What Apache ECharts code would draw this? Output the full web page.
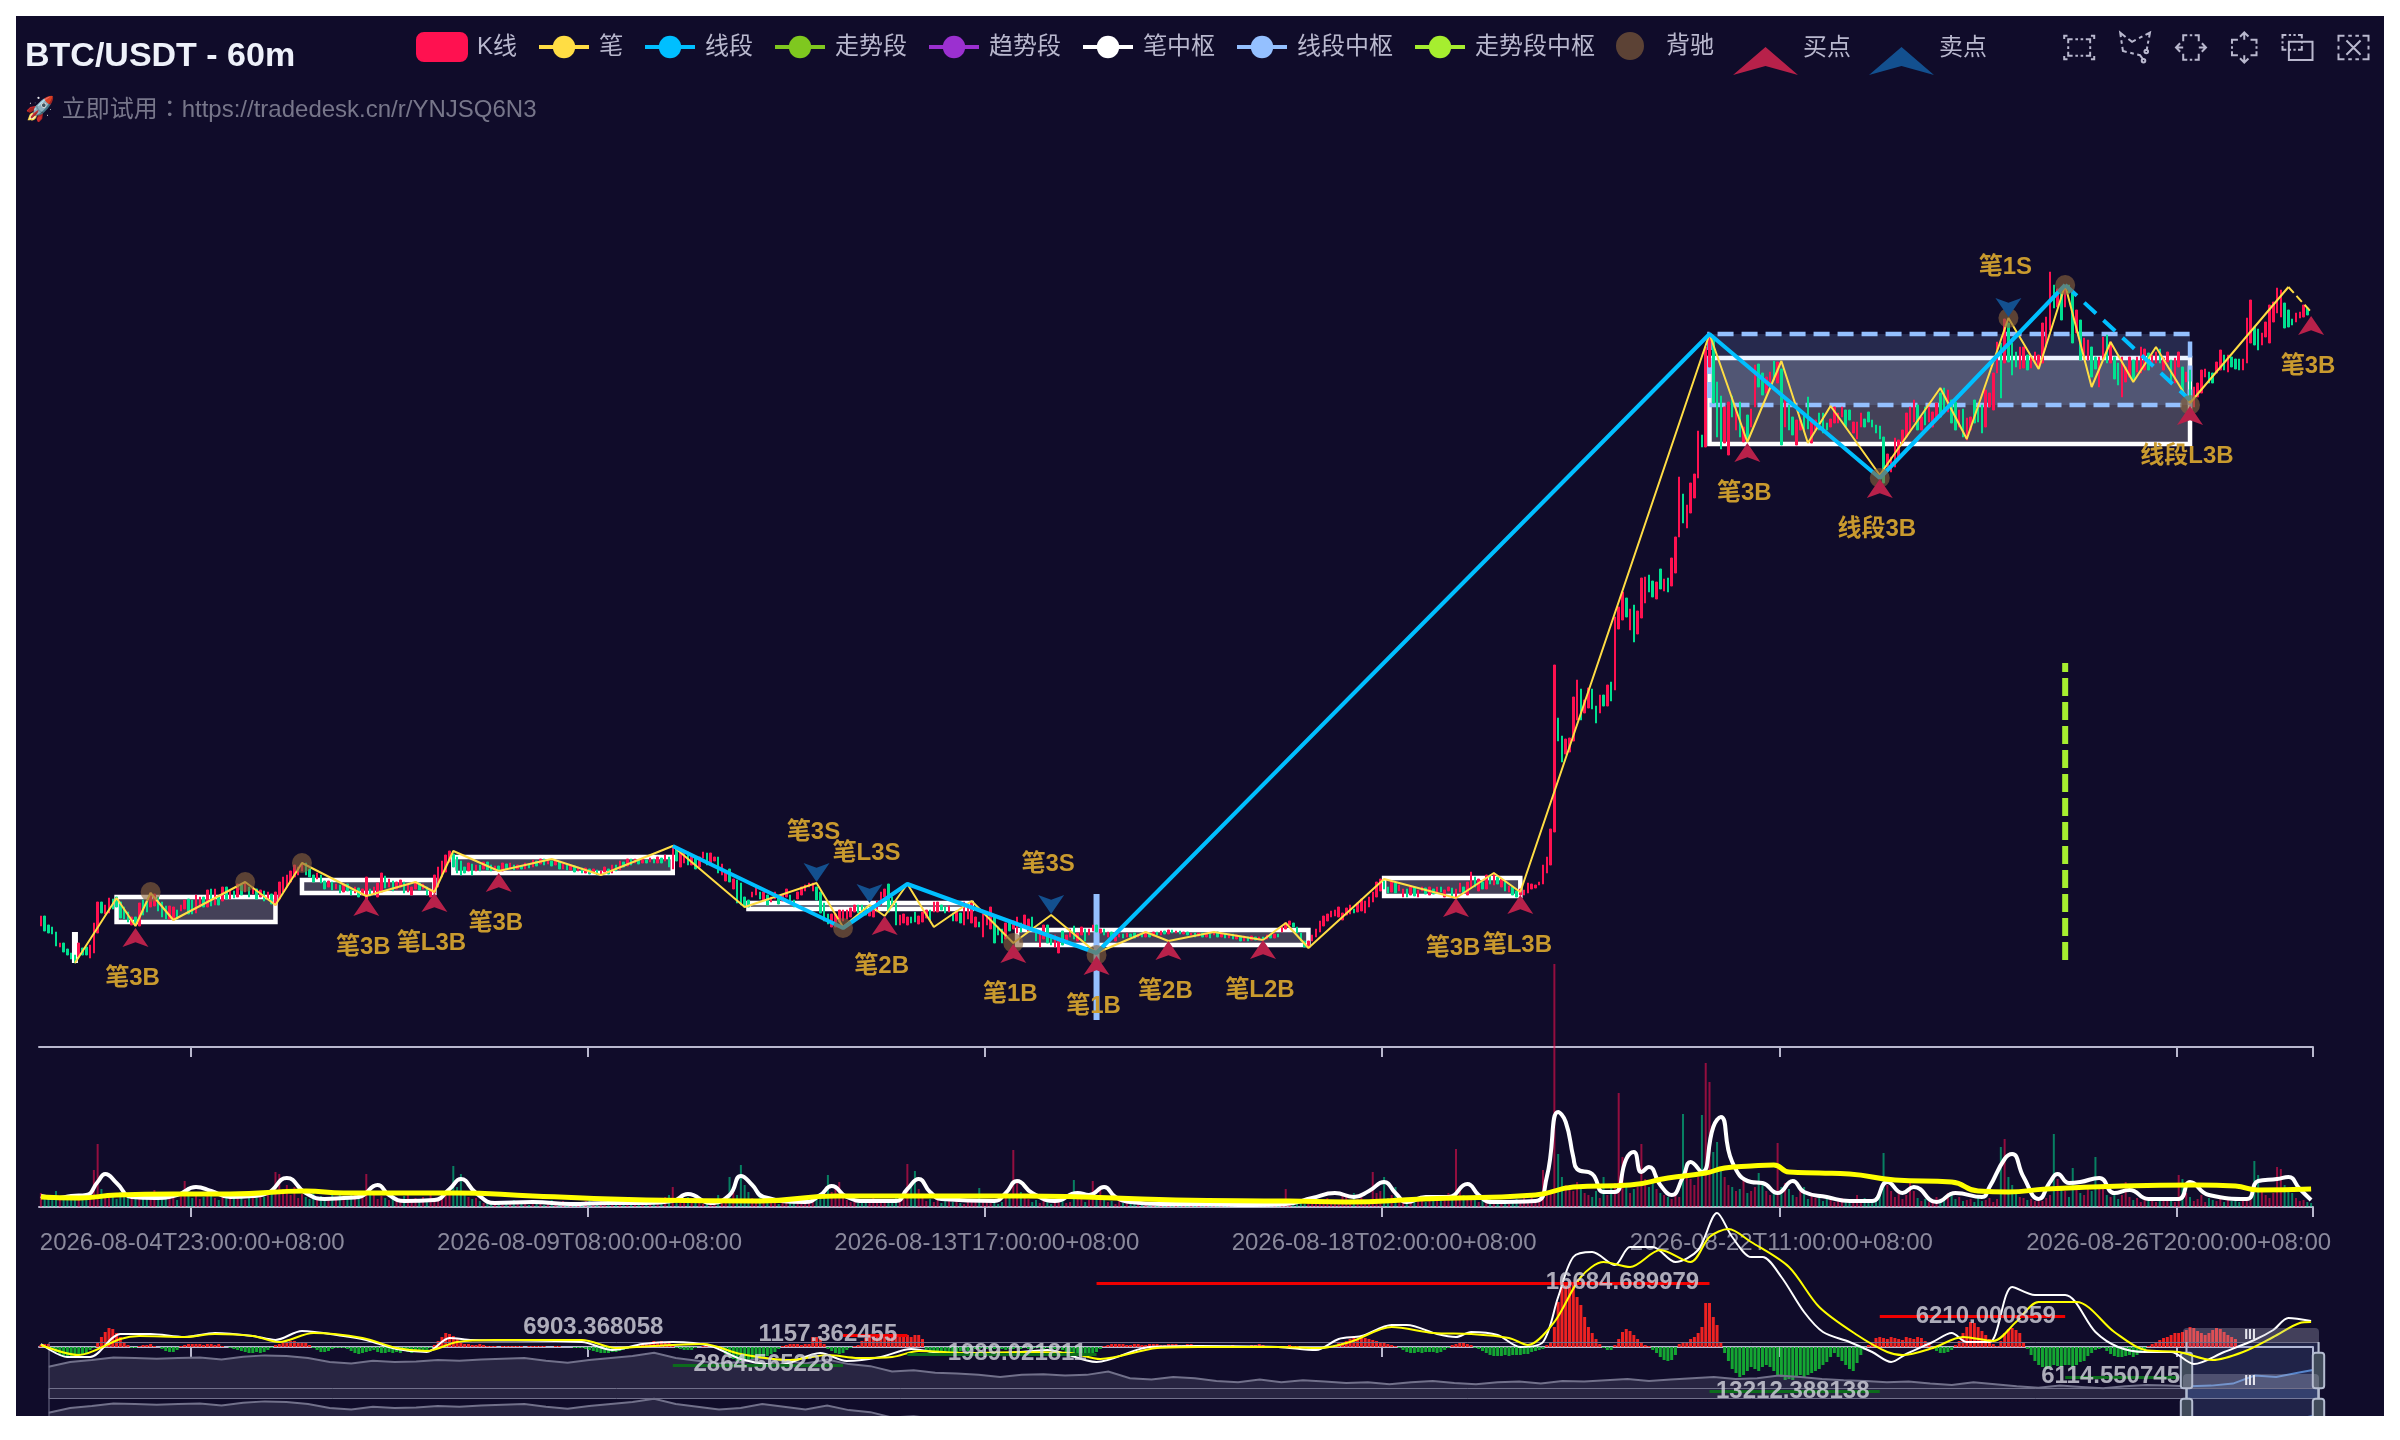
<!DOCTYPE html>
<html><head><meta charset="utf-8">
<style>html,body{margin:0;padding:0;background:#fff;width:2400px;height:1440px;overflow:hidden}
#c{position:absolute;left:16px;top:16px;width:2368px;height:1400px}</style>
<script src="https://cdn.jsdelivr.net/npm/echarts@6/dist/echarts.min.js"></script>
</head><body><div id="c"></div>
<script>
const firstTime = ['2026-08-04T23:00:00+08:00','2026-08-09T08:00:00+08:00','2026-08-13T17:00:00+08:00','2026-08-18T02:00:00+08:00','2026-08-22T11:00:00+08:00','2026-08-26T20:00:00+08:00'];
const tickLabelIndex = [40,145,250,355,460,565];
const barCount = 601;
// [open, close] per hourly bar
const klineBodies = [
[121,131],[131,116],[122,114],[120,113],[115,101],[100,104],[104,95],[98,92],[94,88],[92,84],
[90,104],[99,92],[100,92],[89,102],[94,124],[114,145],[145,134],[133,142],[134,149],[148,138],
[150,140],[145,129],[140,128],[135,125],[122,130],[130,122],[121,144],[147,132],[147,135],[140,154],
[141,153],[150,136],[145,130],[141,128],[128,141],[127,140],[137,128],[136,142],[138,147],[148,133],
[147,133],[134,152],[140,150],[150,140],[140,157],[158,141],[142,158],[150,142],[146,160],[160,148],
[148,156],[156,149],[150,163],[162,152],[155,165],[160,150],[153,160],[158,148],[150,157],[156,146],
[147,155],[153,143],[142,155],[148,165],[155,170],[160,172],[165,176],[170,182],[172,180],[176,184],
[184,172],[178,170],[172,165],[168,174],[172,164],[166,158],[160,166],[165,157],[158,163],[162,154],
[155,163],[163,156],[157,152],[154,160],[159,150],[152,158],[147,170],[158,151],[153,160],[150,164],
[155,174],[171,159],[160,168],[166,156],[158,165],[160,167],[165,154],[155,162],[152,160],[158,165],
[164,157],[158,163],[160,152],[150,158],[154,172],[160,180],[170,186],[175,192],[185,196],[193,180],
[190,174],[186,172],[180,174],[176,184],[183,172],[176,182],[182,176],[178,185],[185,177],[182,176],
[177,181],[181,176],[176,184],[183,178],[179,184],[182,177],[178,182],[181,178],[178,184],[183,179],
[180,187],[186,181],[183,188],[188,182],[183,187],[186,181],[182,186],[185,178],[178,183],[182,177],
[177,182],[181,175],[176,180],[179,174],[174,179],[178,173],[175,178],[177,172],[172,176],[175,180],
[178,173],[174,182],[182,176],[177,186],[185,180],[181,188],[188,182],[184,188],[187,183],[184,188],
[187,184],[185,189],[188,184],[184,190],[189,184],[186,192],[190,180],[178,201],[198,186],[180,194],
[184,196],[195,182],[182,192],[190,178],[180,190],[189,195],[194,182],[184,194],[186,190],[190,174],
[172,183],[166,176],[178,165],[158,168],[167,144],[164,142],[150,140],[147,140],[150,155],[152,160],
[155,148],[147,155],[152,142],[145,150],[148,155],[150,143],[146,152],[150,158],[152,146],[147,140],
[148,155],[152,160],[156,162],[160,164],[156,164],[160,147],[155,134],[144,126],[133,123],[120,133],
[120,133],[125,137],[126,137],[128,137],[130,139],[135,142],[142,134],[142,134],[140,132],[131,138],
[130,140],[135,146],[142,155],[150,158],[163,135],[150,140],[144,122],[122,132],[124,133],[122,130],
[130,124],[135,125],[123,131],[125,135],[129,137],[137,127],[135,145],[135,145],[142,137],[140,134],
[135,141],[134,126],[126,136],[134,124],[122,145],[128,143],[124,145],[120,130],[125,120],[110,133],
[122,133],[118,140],[132,104],[120,112],[118,104],[108,124],[124,116],[118,126],[114,130],[124,115],
[122,132],[116,128],[130,118],[118,106],[100,114],[108,122],[122,104],[112,102],[100,112],[94,108],
[116,102],[104,112],[110,118],[121,108],[106,114],[112,120],[118,106],[112,118],[116,122],[122,115],
[114,118],[118,112],[110,115],[115,109],[106,110],[110,113],[113,109],[110,114],[113,110],[114,109],
[110,113],[113,110],[110,115],[114,110],[111,115],[115,112],[112,116],[116,113],[113,117],[117,114],
[114,116],[116,113],[113,115],[115,112],[112,114],[114,110],[111,114],[114,110],[110,113],[113,109],
[112,115],[115,110],[110,114],[113,109],[109,113],[113,108],[108,112],[111,106],[106,111],[110,106],
[107,111],[110,107],[107,110],[110,108],[108,112],[112,109],[109,113],[113,110],[115,121],[118,124],
[122,126],[124,120],[120,114],[114,106],[106,100],[100,106],[106,112],[110,118],[115,126],[121,131],
[126,133],[130,136],[131,137],[130,140],[127,134],[132,139],[133,142],[138,134],[135,144],[136,148],
[134,146],[140,150],[145,155],[150,165],[156,168],[166,158],[160,154],[155,166],[164,154],[156,162],
[150,158],[158,150],[152,160],[160,151],[150,157],[156,160],[159,153],[152,160],[158,153],[154,160],
[160,155],[150,157],[156,160],[159,150],[148,158],[155,164],[160,154],[152,165],[160,175],[170,160],
[156,168],[165,158],[158,172],[172,163],[162,174],[170,163],[160,168],[165,156],[155,161],[160,152],[156,150],[152,158],
[152,157],[154,164],[158,163],[159,162],[162,165],[163,182],[174,190],[182,218],[215,382],[329,306],
[311,285],[293,308],[295,309],[306,350],[327,367],[358,327],[334,347],[339,359],[358,338],[341,324],
[334,352],[352,341],[341,362],[365,346],[357,430],[418,440],[427,455],[449,430],[417,438],[442,405],
[413,436],[429,469],[444,470],[472,455],[466,450],[448,465],[478,458],[456,468],[469,455],[461,489],
[474,510],[510,570],[553,524],[519,542],[534,564],[549,573],[569,616],[612,600],[600,700],[680,713],
[709,644],[665,610],[651,598],[604,640],[592,645],[651,630],[617,640],[645,610],[605,620],[632,608],
[620,638],[640,682],[683,660],[674,652],[654,670],[657,675],[686,667],[664,685],[678,602],[620,650],
[642,617],[630,612],[602,627],[617,627],[634,617],[650,618],[604,627],[617,627],[634,617],[634,614],
[624,617],[620,628],[624,640],[624,634],[630,640],[637,620],[637,627],[614,625],[608,625],[620,634],
[628,620],[635,625],[627,620],[622,614],[621,608],[610,564],[580,593],[575,590],[580,609],[590,607],
[604,617],[610,634],[617,640],[625,647],[642,617],[617,630],[640,622],[625,640],[620,635],[630,644],
[654,630],[659,634],[635,657],[647,624],[645,617],[620,637],[638,610],[607,629],[617,630],[647,624],
[640,625],[642,614],[620,657],[640,654],[637,674],[674,705],[704,649],[684,728],[724,685],[704,672],
[695,680],[678,700],[679,700],[692,677],[679,690],[683,695],[679,692],[684,724],[700,730],[717,775],
[762,739],[740,758],[755,727],[740,760],[762,754],[754,704],[714,737],[727,687],[690,709],[687,707],
[700,670],[690,678],[660,690],[687,710],[712,684],[684,705],[690,668],[684,662],[650,690],[665,680],
[670,690],[687,667],[675,690],[674,700],[677,698],[694,677],[680,692],[684,695],[698,684],[677,689],
[685,695],[687,665],[664,689],[680,695],[680,654],[665,675],[677,647],[640,660],[650,664],[654,677],
[670,678],[675,664],[674,664],[674,685],[677,697],[692,677],[675,692],[690,680],[688,678],[688,677],
[677,688],[684,729],[704,747],[720,702],[718,697],[702,714],[710,725],[704,742],[725,745],[734,759],
[730,757],[744,719],[737,720],[728,722],[725,734],[729,735],[730,742],[739,732]
];
const volumeValues = [
14,9,12,10,16,8,11,7,10,13,8,9,12,15,37,63,18,12,9,14,
8,15,17,12,9,10,14,8,11,13,17,9,12,8,14,10,7,11,26,20,
9,13,8,10,15,11,9,7,12,14,8,10,13,9,7,11,15,9,12,10,
14,16,35,33,18,22,12,20,9,13,10,8,14,9,11,7,10,12,9,13,
8,10,14,16,9,12,33,20,13,8,11,9,7,12,10,8,11,14,7,9,
6,10,8,12,9,7,10,15,18,41,20,33,14,10,8,9,6,4,7,5,
3,5,2,6,4,7,3,5,4,2,6,3,5,2,4,7,3,4,6,2,
3,5,4,2,6,8,5,3,7,4,5,6,2,3,5,4,7,3,6,4,
5,3,4,6,8,10,12,20,6,4,8,10,5,7,4,3,6,5,8,12,
7,5,30,18,12,42,22,15,9,6,10,5,8,4,7,3,6,9,5,4,
7,6,8,5,10,12,9,14,32,15,20,25,10,7,5,8,4,6,5,7,
9,6,4,8,5,7,10,12,8,43,22,36,18,10,6,8,5,7,4,6,
9,5,7,4,3,6,5,8,19,7,5,4,6,3,5,
12,10,57,24,15,10,8,5,7,4,6,5,3,8,6,11,4,5,27,14,9,5,
7,26,12,18,8,5,6,3,7,4,5,6,3,4,5,2,3,5,4,2,
3,4,2,5,3,2,4,3,2,
3,5,2,3,4,2,3,5,2,4,3,2,3,4,2,3,5,2,3,4,
3,2,4,18,8,5,4,6,3,7,5,8,4,6,9,5,3,7,12,10,
6,14,8,10,5,4,35,14,16,30,9,12,20,6,5,8,4,6,9,7,5,8,
10,12,6,9,14,8,58,20,12,8,10,7,5,9,12,8,6,4,7,5,
3,6,8,5,9,7,14,6,9,37,12,14,243,53,30,22,18,16,25,20,14,12,
10,16,9,30,12,20,24,114,50,22,14,18,20,63,28,20,24,18,14,12,
10,8,14,10,93,40,28,22,30,92,144,125,55,65,40,30,22,20,16,18,
28,14,16,20,34,26,16,12,14,64,20,24,18,12,10,16,20,8,14,9,
12,6,10,8,5,7,9,6,4,8,12,5,9,7,6,10,12,54,22,16,
10,14,8,12,26,16,9,6,8,5,7,10,6,9,14,12,8,10,6,7,8,5,9,6,7,
9,5,8,60,68,30,22,14,10,9,7,8,6,8,6,9,12,73,28,20,16,10,39,18,
14,12,20,16,50,22,18,12,10,14,8,12,25,10,7,9,5,8,6,10,
5,7,9,6,8,5,32,28,14,10,6,8,12,5,9,7,6,8,5,7,6,9,5,8,6,7,
46,32,18,12,9,14,40,38,22,18,14,9,6,7,5,4];
const macdHist = [
2,3,3,-2,-5,-8,-10,-11,-11,-10,-9,-8,-6,-3,-1,4,10,15,19,18,
14,10,5,2,-1,-1,1,2,2,3,1,0,-2,-4,-5,-5,-3,1,2,3,
3,3,3,2,3,3,2,3,1,0,-1,-2,-3,-4,-5,-6,-6,-5,-6,-5,
-3,-1,2,3,4,5,6,6,5,5,4,2,-1,-3,-5,-5,-4,-2,-1,-1,
-1,-2,-4,-6,-7,-6,-5,-4,-3,-5,-6,-6,-5,-6,-5,-6,-4,-5,-6,-4,
-5,-5,-3,-1,2,6,10,14,13,11,8,5,3,3,2,2,3,2,1,1,
1,0,1,1,1,1,1,1,0,1,1,1,1,1,0,0,1,1,0,0,
0,-1,-1,-1,-2,-3,-4,-5,-6,-6,-6,-5,-5,-4,-3,-2,-1,0,2,3,
4,5,6,5,6,5,4,3,-1,-2,-3,-3,-3,-1,0,1,1,1,1,-1,
-4,-7,-10,-12,-14,-15,-14,-15,-13,-12,-10,-12,-9,-7,-5,-2,1,2,3,3,
3,2,3,3,10,10,8,3,-2,-4,-6,-7,-6,-3,-1,1,2,6,9,12,
12,11,12,11,12,11,12,10,11,12,10,12,12,8,-3,-6,-7,-6,-5,-7,
-6,-5,-6,-4,-3,-4,-3,-2,-2,-1,-2,-3,-2,-1,-2,-3,-2,-2,-1,-2,
-1,-2,-2,-1,-1,-2,-1,-2,-2,-1,-3,-5,-7,-9,-9,-8,-9,-8,-7,-5,
-2,1,2,3,3,3,3,2,2,3,3,2,2,3,3,3,2,2,3,3,
3,2,2,3,3,2,2,1,1,1,1,1,1,1,1,2,1,1,1,1,
2,2,3,2,1,1,1,1,0,1,2,1,1,-1,-1,-2,-3,-3,-3,-2,
-1,1,2,4,5,6,8,9,8,10,9,8,7,6,5,4,3,2,1,-1,
-3,-5,-6,-6,-5,-6,-5,-5,-5,-6,-5,-3,-1,2,3,4,4,3,2,-1,
-2,-4,-6,-8,-9,-9,-9,-8,-9,-8,-8,-8,-7,-7,-5,-4,-3,-2,2,5,20,45,60,64,60,
64,50,42,30,20,14,8,3,-1,-3,-3,2,8,15,18,16,12,8,4,2,
1,-3,-6,-10,-13,-14,-13,-8,3,4,5,8,10,14,20,44,44,30,22,5,
-6,-14,-22,-26,-30,-28,-24,-20,-22,-24,-20,-18,-20,-24,-28,-30,-33,-32,-33,-30,
-28,-30,-28,-26,-24,-22,-18,-15,-10,-6,-10,-14,-18,-22,-24,-16,-8,-3,2,5,
9,10,9,8,10,9,8,7,10,9,8,10,9,6,5,-2,-4,-6,-6,-5,
-3,2,6,14,20,25,24,20,16,12,8,3,1,6,14,18,19,17,14,4,
-2,-8,-14,-18,-20,-22,-20,-18,-19,-20,-18,-18,-20,-18,-15,-14,-9,-6,-3,-2,
-1,-4,-7,-9,-10,-10,-9,-8,-10,-8,-6,-3,1,3,5,7,9,10,12,14,
14,15,17,20,19,16,14,12,14,17,19,18,15,12,10,8];
const ma5Vol = [[0,11],[4,9],[8,11],[12,12],[15,25],[17,33],[20,24],[24,10],[30,9],[36,12],[41,20],[45,16],[50,10],[56,11],[60,14],[65,29],[70,14],[75,8],[80,9],[84,10],[89,22],[92,12],[96,6],[104,7],[108,18],[111,28],[115,14],[120,4],[130,5],[140,3],[150,4],[160,4],[167,6],[171,13],[177,4],[182,12],[185,31],[188,22],[191,10],[202,5],[206,12],[209,21],[213,10],[218,6],[226,6],[229,18],[232,28],[235,15],[238,8],[252,6],[255,14],[258,26],[262,14],[268,6],[274,14],[277,12],[281,20],[284,10],[288,5],[296,3],[306,3],[320,2],[329,3],[336,9],[342,14],[347,10],[351,16],[355,25],[358,14],[361,5],[366,10],[372,10],[377,23],[380,12],[383,5],[395,6],[398,30],[401,95],[403,85],[405,50],[406,38],[410,33],[413,15],[416,15],[419,48],[421,55],[423,35],[425,40],[428,22],[431,12],[434,30],[436,45],[439,35],[442,80],[444,90],[447,45],[452,25],[455,24],[459,14],[463,26],[466,15],[472,10],[478,6],[484,6],[488,25],[492,14],[495,20],[501,5],[506,14],[513,10],[515,20],[519,48],[521,53],[524,30],[528,8],[531,25],[533,33],[536,24],[539,25],[544,29],[548,14],[552,17],[557,8],[565,8],[568,25],[573,12],[583,8],[586,26],[591,28],[594,30],[597,18],[600,7]];
const ma20Vol = [[0,10],[10,9],[20,12],[35,13],[50,13],[70,16],[80,14],[110,14],[130,11],[160,7],[190,6],[210,11],[240,11],[260,11],[300,7],[330,6],[345,5],[365,8],[395,12],[405,20],[420,22],[430,29],[440,34],[445,39],[452,41],[458,42],[462,35],[470,34],[478,33],[490,27],[505,25],[512,16],[520,15],[530,18],[550,21],[570,22],[580,21],[586,17],[600,18]];
const macdDif = [[0,3],[7,-10],[13,-10],[21,13],[29,13],[38,10],[46,14],[56,11],[62,7],[69,16],[80,11],[86,7],[94,-2],[102,-5],[108,9],[114,7],[143,5],[151,-3],[159,3],[167,5],[177,1],[185,-12],[195,-18],[206,-6],[213,-14],[222,-10],[230,-2],[240,-7],[256,-6],[266,-3],[279,-15],[293,0],[306,1],[327,0],[337,-3],[343,8],[349,11],[357,22],[361,22],[369,13],[374,10],[378,15],[385,12],[391,0],[397,5],[401,50],[405,90],[410,95],[416,82],[420,100],[426,100],[432,85],[438,97],[443,134],[447,110],[452,90],[455,90],[460,70],[466,35],[471,15],[478,5],[484,-5],[489,-15],[493,-7],[500,5],[505,14],[509,5],[515,5],[521,60],[527,52],[535,52],[543,15],[549,0],[556,-5],[563,-5],[569,-17],[577,-5],[585,7],[590,17],[594,29],[600,26]];
const macdDea = [[0,2],[10,-8],[21,8],[26,11],[38,10],[46,13],[56,11],[63,5],[72,14],[85,9],[94,-1],[102,-4],[110,5],[120,7],[143,7],[152,-1],[162,1],[175,3],[185,-7],[198,-13],[208,-8],[216,-11],[225,-10],[232,-4],[245,-6],[260,-5],[272,-6],[280,-12],[295,-1],[306,0],[327,0],[338,-1],[346,5],[357,20],[368,14],[378,13],[388,9],[393,2],[400,25],[407,70],[413,85],[420,80],[428,97],[436,85],[441,110],[446,118],[452,105],[462,80],[470,40],[480,12],[488,-5],[492,-8],[500,-1],[508,10],[516,6],[522,25],[528,45],[538,45],[548,15],[556,-3],[565,-5],[574,-13],[582,-5],[590,10],[597,24],[600,25]];
const macdMarkLines = [[167,212,-18,'#0c6b1c'],[212,229,12,'#f00000'],[229,279,-7,'#0c6b1c'],[279,441,64,'#f00000'],[441,486,-44.5,'#0c6b1c'],[486,535,31,'#f00000'],[535,565,-30,'#0c6b1c']];
const macdLabelText = ['6903.368058','2864.565228','1157.362455','1989.021811','16684.689979','6210.000859','13212.388138','6114.550745'];
const macdLabelIndex = [146,191,208,258,418,514,463,547];
const macdLabelValue = [20,-17,13,-6,65,31,-44,-29];
// pivots
const biSolid = [[9,84],[20,149],[25,121],[29,154],[35,127],[54,165],[62,142],[69,184],[86,151],[99,165],[104,155],[109,196],[121,176],[135,188],[148,172],[167,201],[186,140],[205,164],[212,120],[219,142],[223,131],[229,163],[236,120],[246,146],[257,104],[267,132],[279,94],[292,115],[298,106],[310,115],[323,107],[329,124],[335,99],[355,168],[374,149],[384,174],[391,155],[441,713],[451,605],[460,686],[467,604],[473,641],[486,572],[502,659],[509,608],[520,729],[528,678],[535,762],[542,660],[547,705],[553,665],[559,700],[568,644],[594,760]];
const biDashed = [[594,760],[600,735]];
const segSolid = [[167,201],[212,119],[229,163],[279,94],[441,713],[486,569],[535,762]];
const segDashed = [[535,762],[568,647]];
// [startIndex, endIndex, low, high]
const biCenters = [[9,9,84,115],[20,62,125,150],[69,104,154,167],[109,167,174,190],[187,246,138,144],[258,335,102,117],[355,391,151,169],[441,568,603,689]];
const segCenters = [[279,279,27,153],[441,568,642,713]];
const trendCenters = [[535,535,87,384]];
const divergence = [[29,155],[54,165],[69,184],[212,119],[257,104],[279,92],[486,569],[520,729],[535,762],[568,642]];
const buyPoints = [[25,119,'笔3B'],[86,150,'笔3B'],[104,154,'笔L3B'],[121,174,'笔3B'],[223,131,'笔2B'],[257,103,'笔1B'],[279,91,'笔1B'],[298,106,'笔2B'],[323,107,'笔L2B'],[374,149,'笔3B'],[391,152,'笔L3B'],[451,604,'笔3B'],[486,568,'线段3B'],[568,641,'线段L3B'],[600,731,'笔3B']];
const sellPoints = [[205,165,'笔3S'],[219,144,'笔L3S'],[267,133,'笔3S'],[520,730,'笔1S']];
const historyShadow = [37,44,47,51,50,49,50,51,48,52,54,53,50,44,42,46,44,45,47,46,48,49,50,46,43,47,50,53,58,50,46,42,44,50,46,42,48,41,38,30,32,28,27,25,22,25,26,24,25,30,20,18,22,20,16,14,18,14,17,15,13,14,11,14,16,13,11,14,15,12,16,15,17,19,16,18,20,22,19,20,24,22,19,17,16,14,15,12,10,14,11,8,6,9,7,5,8,10,9,8,9,12,24,22,28,34];

const categories = Array.from({length:barCount},(_,i)=>{const k=tickLabelIndex.indexOf(i);return k>=0?firstTime[k]:String(i)});
const showTick = i => tickLabelIndex.includes(i);
const candleData = klineBodies.map(([o,c])=>[o,c,Math.min(o,c),Math.max(o,c)]);
const UP='#ff1150', DOWN='#00e090';

const LEFT=23, WIDTH=2274;
function axis(gridIndex,showLabel){return {type:'category',gridIndex,data:categories,boundaryGap:true,
  axisLine:{show:true,lineStyle:{color:'#B9B8CE',width:2}},
  axisTick:{show:true,interval:(i)=>showTick(i),length:10,lineStyle:{color:'#B9B8CE',width:2}},
  axisLabel:{show:showLabel,interval:(i)=>showTick(i),color:'#8a899c',fontSize:24,margin:24,hideOverlap:false},
  splitLine:{show:false}}}
function yAx(gridIndex,min,max){return {type:'value',gridIndex,min,max,show:false,splitLine:{show:false}}}
function centersSeries(name,color,list,fill,dashed){return {name,type:'line',xAxisIndex:0,yAxisIndex:0,data:[],symbol:'circle',
  lineStyle:{color,width:4},itemStyle:{color},
  markArea:{silent:true,data:list.map(([a,b,lo,hi])=>{const flat=a===b;return [{xAxis:a,yAxis:lo,itemStyle:{color:fill,borderColor:color,borderWidth:flat?6:4.5,borderType:(dashed&&!flat)||dashed==='all'?[16,8]:'solid',opacity:1}},{xAxis:b,yAxis:hi}]})}}}
function pointSeries(name,list,color,rotate,labelY){return {name,type:'scatter',xAxisIndex:0,yAxisIndex:0,z:8,
  data:list.map(p=>[p[0],p[1]]),symbol:'arrow',symbolSize:[19.5,19],symbolRotate:rotate,symbolKeepAspect:false,
  itemStyle:{color,opacity:1},
  label:{show:true,position:'inside',offset:[-3,labelY],formatter:p=>list[p.dataIndex][2],color:'#c99a2e',fontSize:24,fontWeight:'bold'}}}
const arrowPath='path://M0 0L0.01 0L0.01 0.01L0 0.01Z M32.5 26L65 54L32.5 45L0 54Z';
const circlePath='path://M40 14L40.01 14L40.01 14.01Z M0 14A14 14 0 1 1 28 14A14 14 0 1 1 0 14Z';
const legendCommon={symbolKeepAspect:false,lineStyle:{width:4},textStyle:{color:'#B9B8CE',fontSize:24}};
const handleTop=[1312,1358];

const option={
 animation:false,backgroundColor:'#100C2A',
 textStyle:{fontFamily:'"Liberation Sans","Noto Sans CJK TC",sans-serif'},
 title:{text:'BTC/USDT - 60m',subtext:'🚀 立即试用：https://tradedesk.cn/r/YNJSQ6N3',left:4,top:19,
   textStyle:{color:'#EEF1FA',fontSize:34,fontWeight:'bold'},subtextStyle:{color:'#77768a',fontSize:24},itemGap:24},
 legend:[{...legendCommon,left:395,top:11,itemWidth:50,itemHeight:28,itemGap:20,textStyle:{...legendCommon.textStyle,padding:[0,0,0,5]},
   data:[{name:'K线',icon:'roundRect'},'笔','线段','走势段','趋势段','笔中枢','线段中枢','走势段中枢']},
  {...legendCommon,left:1595,top:11,itemWidth:40,itemHeight:28,textStyle:{...legendCommon.textStyle,padding:[0,0,0,5]},data:[{name:'背驰',icon:circlePath}]},
  {...legendCommon,left:1712,top:0,itemWidth:65,itemHeight:54,itemGap:18,
   data:[{name:'买点',icon:arrowPath},{name:'卖点',icon:arrowPath}]}],
 toolbox:{right:-2,top:-1,itemSize:30,itemGap:21,iconStyle:{borderColor:'#B9B8CE',borderWidth:2},feature:{brush:{type:['rect','polygon','lineX','lineY','keep','clear']}}},
 brush:{xAxisIndex:'all',brushLink:'all'},
 grid:[{left:LEFT,width:WIDTH,top:84,height:947,outerBoundsMode:'none'},{left:LEFT,width:WIDTH,top:948,height:243,outerBoundsMode:'none'},{left:LEFT,width:WIDTH,top:1181,height:300,outerBoundsMode:'none'},{left:-200,width:100,top:10,height:50,outerBoundsMode:'none'}],
 xAxis:[axis(0,false),axis(1,true),axis(2,false),{type:'category',gridIndex:3,show:false,data:historyShadow.map((_,i)=>String(i))}],
 yAxis:[yAx(0,0,947),yAx(1,0,243),yAx(2,-150,150),yAx(3,0,100)],
 dataZoom:[0,1].map(k=>({type:'slider',xAxisIndex:3,filterMode:'none',start:94.1,end:100,left:30,right:67,top:k?1372:1326,height:57,showDetail:false,brushSelect:false,
   borderColor:'#71708A',fillerColor:'rgba(135,175,255,0.14)',
   dataBackground:{lineStyle:{color:'#71708A',width:2},areaStyle:{color:'#71708A',opacity:0.25}},
   selectedDataBackground:{lineStyle:{color:'#4f7ec4',width:2},areaStyle:{color:'#4f7ec4',opacity:0.12}},
   handleSize:'100%',handleStyle:{color:'#404a59',borderColor:'#b4bcd0',borderWidth:2}})),
 graphic:handleTop.flatMap(y=>[
   {type:'rect',z:100,shape:{x:2167,y,width:136,height:14,r:[4,4,0,0]},style:{fill:'rgba(185,184,206,0.3)'}},
   {type:'text',z:101,x:2234,y:y+7,style:{text:'III',fill:'#e6e6ee',font:'bold 14px "Liberation Sans"',textAlign:'center',textVerticalAlign:'middle'}}]),
 series:[
  {name:'K线',type:'candlestick',large:false,progressive:0,xAxisIndex:0,yAxisIndex:0,data:candleData,barWidth:2,z:3,
   itemStyle:{color:UP,color0:DOWN,borderColor:UP,borderColor0:DOWN,borderWidth:1}},
  {name:'笔',type:'line',data:biSolid,xAxisIndex:0,yAxisIndex:0,symbol:'none',z:4,lineStyle:{color:'#FFDD44',width:2},itemStyle:{color:'#FFDD44'}},
  {name:'笔',type:'line',data:biDashed,xAxisIndex:0,yAxisIndex:0,symbol:'none',z:4,lineStyle:{color:'#FFDD44',width:2,type:'dashed'},itemStyle:{color:'#FFDD44'}},
  {name:'线段',type:'line',data:segSolid,xAxisIndex:0,yAxisIndex:0,symbol:'none',z:5,lineStyle:{color:'#00BFFF',width:4},itemStyle:{color:'#00BFFF'}},
  {name:'线段',type:'line',data:segDashed,xAxisIndex:0,yAxisIndex:0,symbol:'none',z:5,lineStyle:{color:'#00BFFF',width:4,type:[16,10]},itemStyle:{color:'#00BFFF'}},
  {name:'走势段',type:'line',data:[],symbol:'circle',xAxisIndex:0,yAxisIndex:0,lineStyle:{color:'#7FC81F',width:4},itemStyle:{color:'#7FC81F'}},
  {name:'趋势段',type:'line',data:[],symbol:'circle',xAxisIndex:0,yAxisIndex:0,lineStyle:{color:'#9B30D0',width:4},itemStyle:{color:'#9B30D0'}},
  centersSeries('笔中枢','#FFFFFF',biCenters,'rgba(255,255,255,0.22)',false),
  centersSeries('线段中枢','#94C0FF',segCenters,'rgba(148,192,255,0.17)',true),
  centersSeries('走势段中枢','#A6EE2F',trendCenters,'rgba(166,238,47,0.15)','all'),
  {name:'背驰',type:'scatter',data:divergence,xAxisIndex:0,yAxisIndex:0,symbolSize:20,z:7,itemStyle:{color:'rgba(139,100,60,0.62)',opacity:1}},
  pointSeries('买点',buyPoints,'#B8214A',0,40.5),
  pointSeries('卖点',sellPoints,'#13508F',180,-40),
  {name:'成交量',type:'bar',xAxisIndex:1,yAxisIndex:1,data:volumeValues,barWidth:2,itemStyle:{color:p=>{const b=klineBodies[p.dataIndex];return b&&b[1]>=b[0]?'rgba(255,17,80,0.55)':'rgba(0,224,144,0.55)'}}},
  {name:'MA5',type:'line',smooth:true,xAxisIndex:1,yAxisIndex:1,data:ma5Vol,symbol:'none',z:4,lineStyle:{color:'#fff',width:4}},
  {name:'MA20',type:'line',smooth:true,xAxisIndex:1,yAxisIndex:1,data:ma20Vol,symbol:'none',z:5,lineStyle:{color:'#ffff00',width:5}},
  {name:'MACD',type:'bar',xAxisIndex:2,yAxisIndex:2,data:macdHist,barWidth:3,itemStyle:{color:p=>p.value>=0?'#ee2222':'#14a632'},
   markLine:{silent:true,symbol:'none',label:{show:false},data:macdMarkLines.map(([a,b,v,color])=>[{coord:[a,v],lineStyle:{color,width:3,type:'solid'}},{coord:[b,v]}])}},
  {name:'DIF',type:'line',smooth:0.3,xAxisIndex:2,yAxisIndex:2,data:macdDif,symbol:'none',z:4,lineStyle:{color:'#fff',width:2}},
  {name:'DEA',type:'line',smooth:0.3,xAxisIndex:2,yAxisIndex:2,data:macdDea,symbol:'none',z:4,lineStyle:{color:'#ffff00',width:2}},
  {name:'MACD标注',type:'scatter',xAxisIndex:2,yAxisIndex:2,symbolSize:0,z:9,data:macdLabelIndex.map((x,i)=>[x,macdLabelValue[i]]),
   label:{show:true,position:'inside',formatter:p=>macdLabelText[p.dataIndex],color:'#d4d4de',fontSize:24,fontWeight:'bold'}},
  {name:'history',type:'line',xAxisIndex:3,yAxisIndex:3,data:historyShadow,symbol:'none',silent:true,lineStyle:{opacity:0}}
 ]};
const chart=echarts.init(document.getElementById('c'),null,{renderer:'canvas'});
chart.setOption(option);
</script></body></html>
